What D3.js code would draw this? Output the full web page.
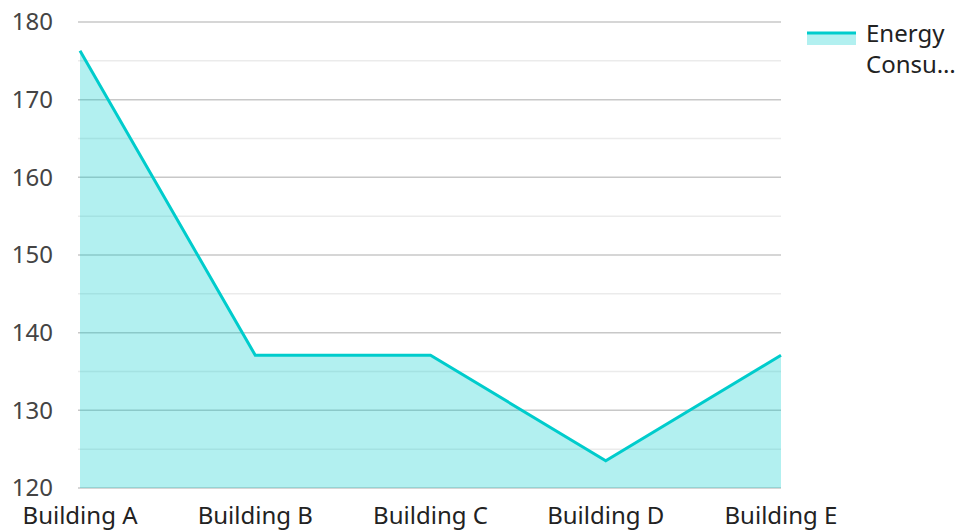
<!DOCTYPE html>
<html><head><meta charset="utf-8">
<script src="https://cdn.jsdelivr.net/npm/d3@7"></script>
<style>body{margin:0;background:#fff;}svg{display:block;font-family:"Noto Sans","Open Sans",sans-serif;}</style>
</head><body>
<svg id="c" width="960" height="531"></svg>
<script>
const categories = ["Building A","Building B","Building C","Building D","Building E"];
const values = [176.3, 137.1, 137.1, 123.5, 137.1];
const seriesName = "Energy Consumption";
const yTicks = [120,130,140,150,160,170,180];
const yMinor = [125,135,145,155,165,175];

const svg = d3.select("#c");
const x = d3.scalePoint().domain(categories).range([80, 781]);
const y = d3.scaleLinear().domain([120,180]).range([488, 22]);
const color = "#00cccc";

svg.append("g").selectAll("line").data(yMinor).join("line")
  .attr("x1",78).attr("x2",781).attr("y1",d=>y(d)).attr("y2",d=>y(d))
  .attr("stroke","#ebebeb").attr("stroke-width",1.5);
svg.append("g").selectAll("line").data(yTicks).join("line")
  .attr("x1",78).attr("x2",781).attr("y1",d=>y(d)).attr("y2",d=>y(d))
  .attr("stroke","#c8c8c8").attr("stroke-width",1.5);

const data = categories.map((c,i)=>({c, v: values[i]}));
svg.append("path").datum(data)
  .attr("d", d3.area().x(d=>x(d.c)).y0(y(120)).y1(d=>y(d.v)))
  .attr("fill", color).attr("fill-opacity", 0.3);
svg.append("path").datum(data)
  .attr("d", d3.line().x(d=>x(d.c)).y(d=>y(d.v)))
  .attr("fill","none").attr("stroke",color).attr("stroke-width",3).attr("stroke-linejoin","miter");

svg.append("g").selectAll("text").data(yTicks).join("text")
  .attr("x",53).attr("y",d=>y(d)).attr("dy","0.35em").attr("text-anchor","end")
  .attr("font-size",24).attr("fill","#444").text(d=>d);

svg.append("g").selectAll("text").data(categories).join("text")
  .attr("x",d=>x(d)).attr("y",524).attr("text-anchor","middle")
  .attr("font-size",24).attr("fill","#222").text(d=>d);

const lg = svg.append("g");
lg.append("rect").attr("x",807).attr("y",33).attr("width",49).attr("height",12).attr("fill",color).attr("fill-opacity",0.3);
lg.append("line").attr("x1",807).attr("x2",856).attr("y1",33).attr("y2",33).attr("stroke",color).attr("stroke-width",3);
const words = seriesName.split(" ");
lg.append("text").attr("x",866).attr("y",42).attr("font-size",24).attr("fill","#222").text(words[0]);
lg.append("text").attr("x",866).attr("y",73).attr("font-size",24).attr("fill","#222").text("Consu…");
</script>
</body></html>
